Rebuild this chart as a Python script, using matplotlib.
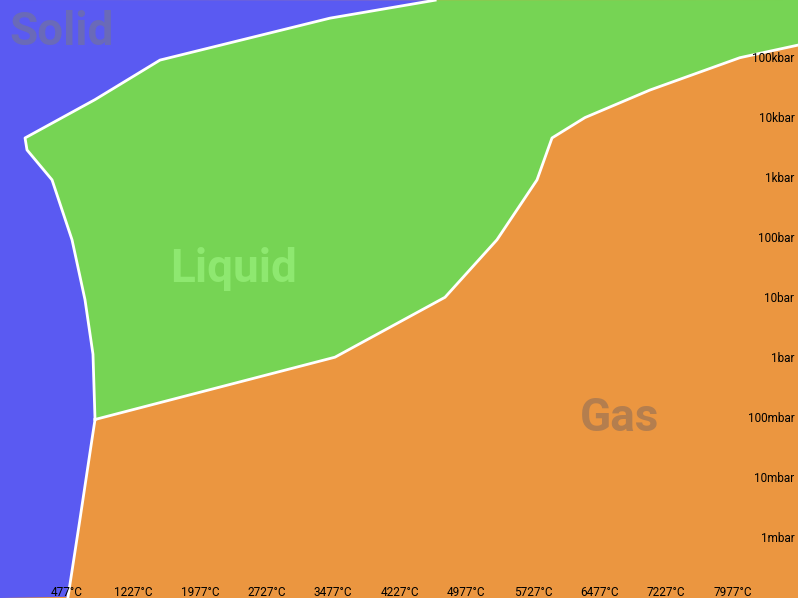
import matplotlib
matplotlib.use("Agg")
import matplotlib.pyplot as plt

plt.rcParams["font.family"] = ["Roboto", "DejaVu Sans"]

# boundaries: temperature in K, pressure as log10(Pa)
melt_T = [4900, 3716, 1802, 1070, 282, 304, 586, 811, 957, 1047, 1070]
melt_logP = [10.98, 10.68, 9.98, 9.32, 8.68, 8.48, 7.98, 6.98, 5.98, 5.07, 3.98]
subl_T = [1070, 1036, 901, 766]
subl_logP = [3.98, 3.65, 2.32, 1.02]
boil_T = [1070, 3772, 5011, 5596, 6047, 6216, 6587, 7319, 8332, 8986]
boil_logP = [3.98, 5.02, 6.02, 6.98, 7.98, 8.68, 9.02, 9.48, 10.02, 10.23]

temp_ticks_c = [477, 1227, 1977, 2727, 3477, 4227, 4977, 5727, 6477, 7227, 7977]
pres_ticks_pa = [1e10, 1e9, 1e8, 1e7, 1e6, 1e5, 1e4, 1e3, 1e2]
pres_labels = ["100kbar", "10kbar", "1kbar", "100bar", "10bar", "1bar", "100mbar", "10mbar", "1mbar"]

T_MAX, P_MIN, P_MAX = 8986, 10.0, 10 ** 10.983

melt_P = [10 ** v for v in melt_logP]
subl_P = [10 ** v for v in subl_logP]
boil_P = [10 ** v for v in boil_logP]

fig = plt.figure(figsize=(7.98, 5.98), dpi=100)
ax = fig.add_axes([0, 0, 1, 1])
ax.set_yscale("log")
ax.set_xlim(0, T_MAX)
ax.set_ylim(P_MIN, P_MAX)
ax.set_facecolor("#EB9640")

solid_x = melt_T + subl_T[1:] + [0, 0]
solid_y = melt_P + subl_P[1:] + [P_MIN, P_MAX]
ax.fill(solid_x, solid_y, color="#5A5AF2", lw=0)
liq_x = melt_T + boil_T[1:] + [T_MAX, T_MAX]
liq_y = melt_P + boil_P[1:] + [boil_P[-1], P_MAX]
ax.fill(liq_x, liq_y, color="#76D454", lw=0)

for xs, ys in [(melt_T, melt_P), (subl_T, subl_P), (boil_T, boil_P)]:
    ax.plot(xs, ys, color="white", lw=2)

ax.text(100, 10 ** 10.45, "Solid", fontsize=33, fontweight="bold", color="#6A6AB8", va="center")
ax.text(1920, 10 ** 6.5, "Liquid", fontsize=33, fontweight="bold", color="#8EE870", va="center")
ax.text(6530, 10 ** 4.0, "Gas", fontsize=33, fontweight="bold", color="#B47E4E", va="center")

for c in temp_ticks_c:
    ax.text(c + 273.15, 12.5, f"{c}°C", fontsize=8.5, ha="center", va="center")
for p, lab in zip(pres_ticks_pa, pres_labels):
    ax.text(T_MAX - 40, p, lab, fontsize=8.5, ha="right", va="center")

ax.set_xticks([])
ax.set_yticks([])
ax.minorticks_off()
for s in ax.spines.values():
    s.set_visible(False)
fig.savefig("out.png", dpi=100)
